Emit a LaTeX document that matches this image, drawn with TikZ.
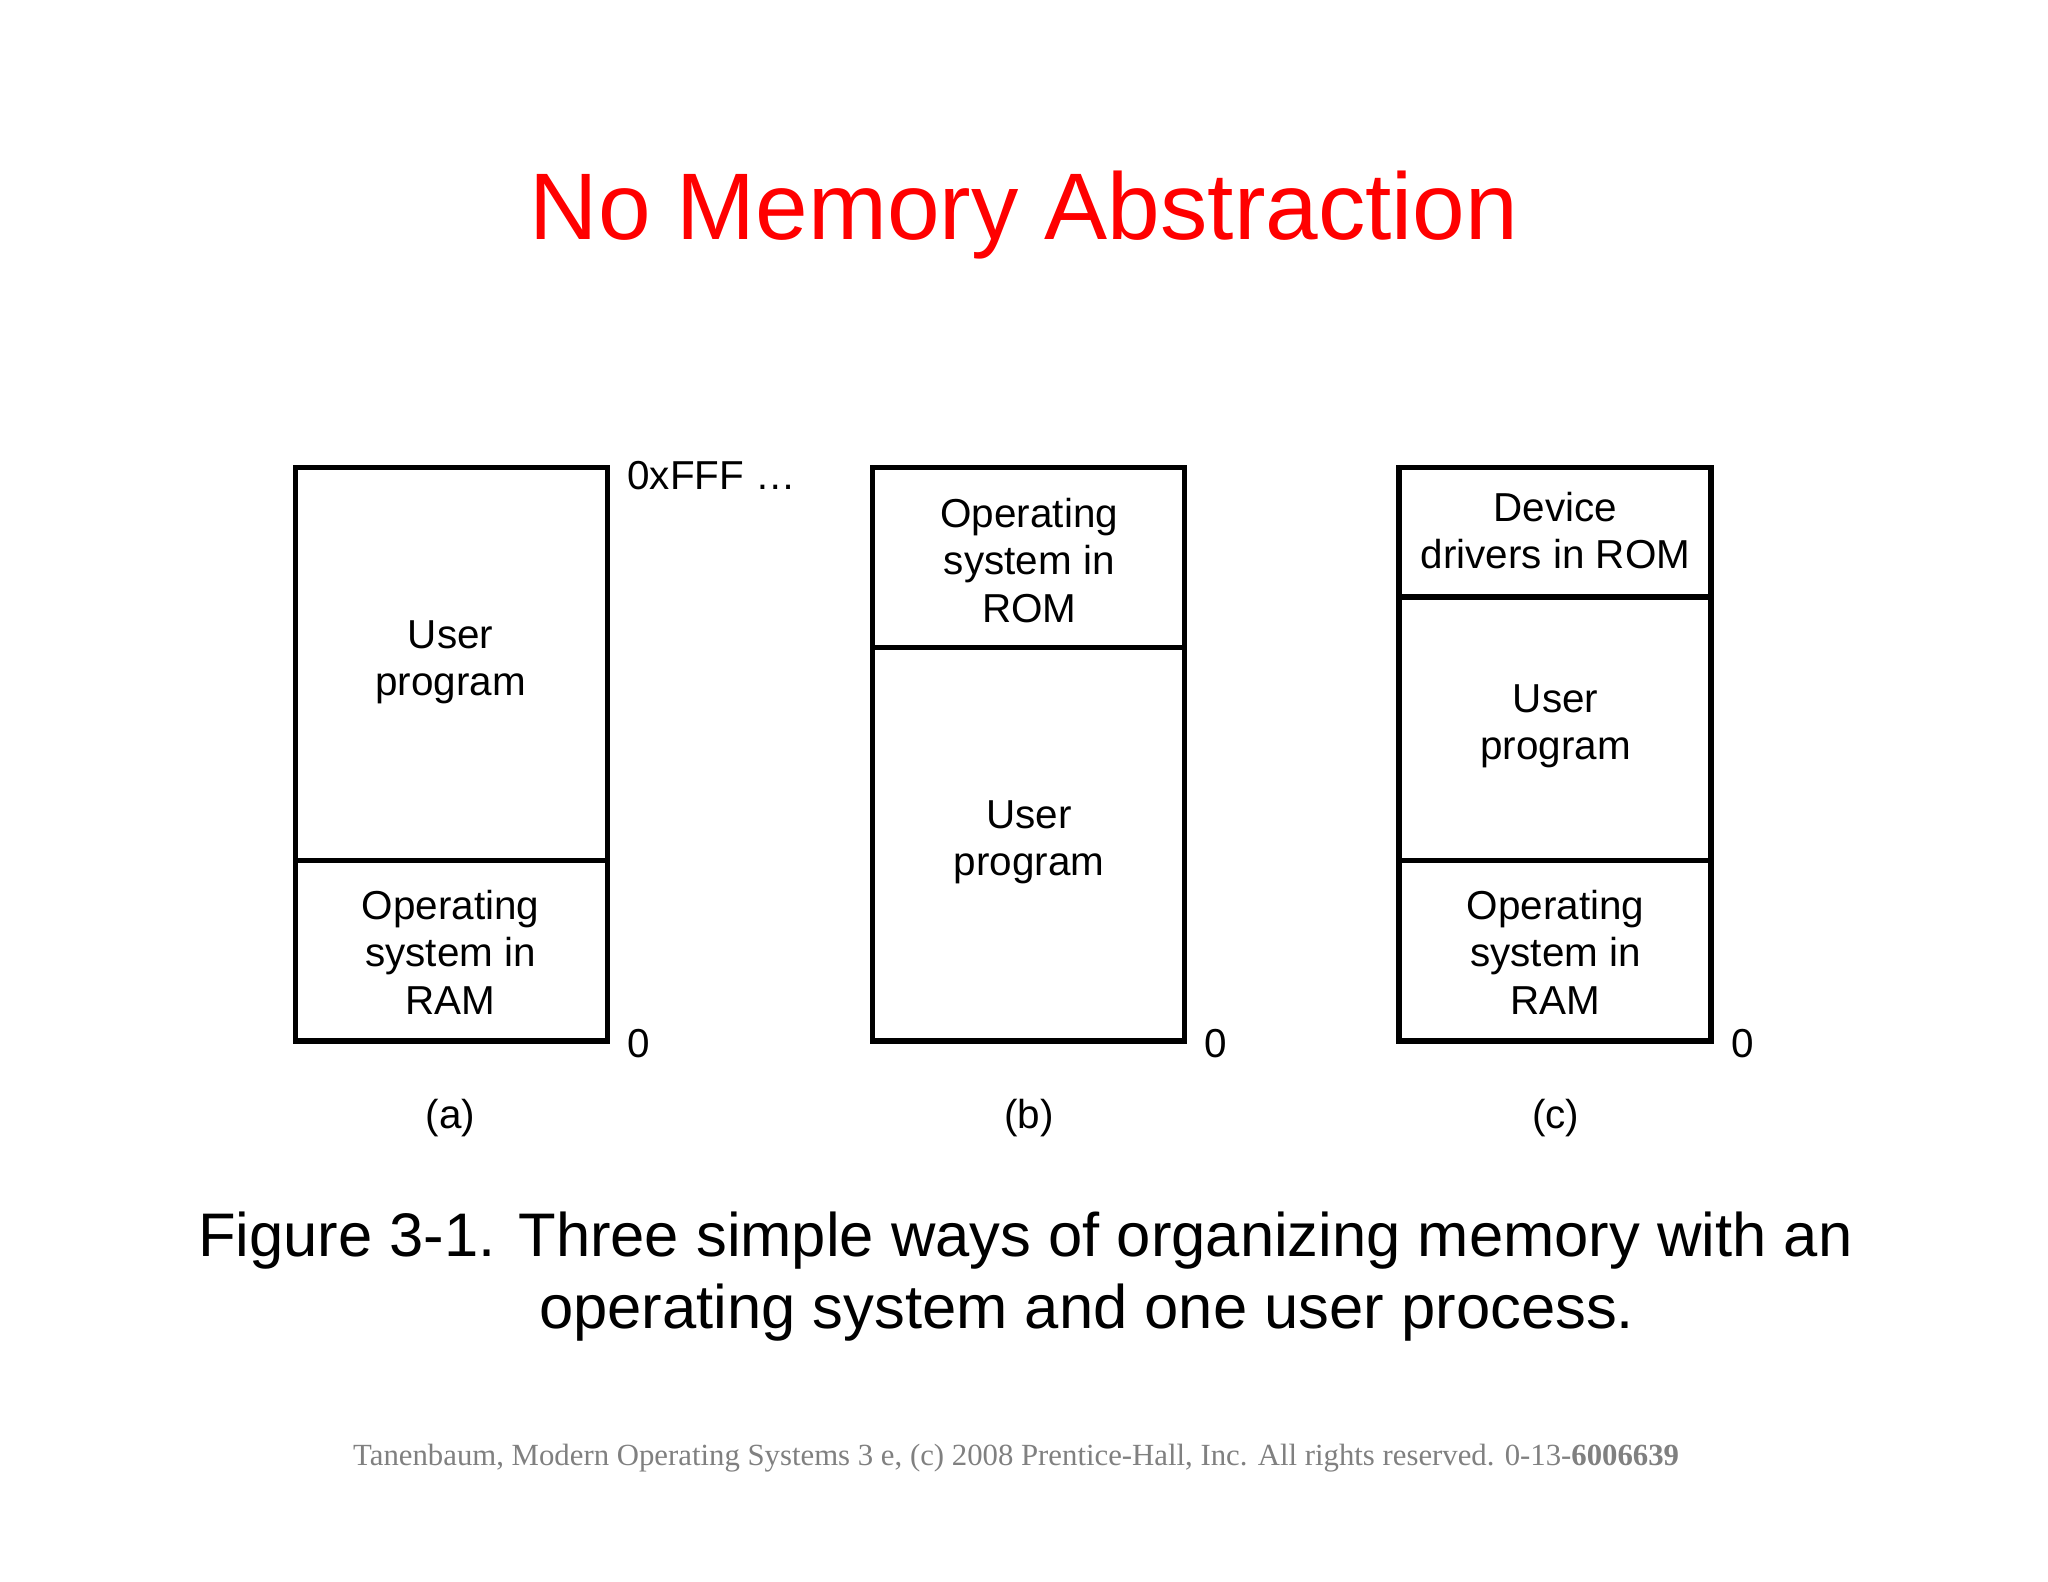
\documentclass[tikz,border=0pt]{standalone}
\usepackage{fontspec}
\setmainfont{Liberation Sans}
\newfontfamily\footfont{Liberation Serif}
\begin{document}
\begin{tikzpicture}[x=0.01cm,y=-0.01cm,
  mem/.style={draw,line width=1.15pt},
  lbl/.style={font=\fontsize{8.8pt}{10.3pt}\selectfont,align=center},
  side/.style={font=\fontsize{8.8pt}{10.3pt}\selectfont,anchor=west}]
\useasboundingbox (0,0) rectangle (1568,1211);
\node[text=red,font=\fontsize{20.6pt}{25pt}\selectfont] (title) at (784,165) {No Memory Abstraction};
% (a)
\draw[mem] (226,358) rectangle (465,797);
\draw[mem] (226,659) -- (465,659);
\node[lbl] (a1) at (345,507) {User\\program};
\node[lbl] (a2) at (345,729) {Operating\\system in\\RAM};
\node[side] (hi) at (468,364) {0xFFF \dots};
\node[side] (za) at (468,799) {0};
\node[lbl] (la) at (345,856) {(a)};
% (b)
\draw[mem] (668,358) rectangle (907,797);
\draw[mem] (668,496) -- (907,496);
\node[lbl] (b1) at (788,429) {Operating\\system in\\ROM};
\node[lbl] (b2) at (788,645) {User\\program};
\node[side] (zb) at (910,799) {0};
\node[lbl] (lb) at (788,856) {(b)};
% (c)
\draw[mem] (1071,358) rectangle (1310,797);
\draw[mem] (1071,457) -- (1310,457);
\draw[mem] (1071,659) -- (1310,659);
\node[lbl] (c1) at (1191,406) {Device\\drivers in ROM};
\node[lbl] (c2) at (1191,556) {User\\program};
\node[lbl] (c3) at (1191,729) {Operating\\system in\\RAM};
\node[side] (zc) at (1313,799) {0};
\node[lbl] (lc) at (1191,856) {(c)};
% caption
\node[font=\fontsize{13.4pt}{16pt}\selectfont] (cap1) at (785,950) {Figure 3-1. Three simple ways of organizing memory with an};
\node[font=\fontsize{13.4pt}{16pt}\selectfont] (cap2) at (832,1005) {operating system and one user process.};
\node[font=\footfont\fontsize{6.7pt}{8pt}\selectfont,text=black!50] (foot) at (778,1116) {Tanenbaum, Modern Operating Systems 3 e, (c) 2008 Prentice-Hall, Inc. All rights reserved. 0-13-\textbf{6006639}};
\end{tikzpicture}
\end{document}
